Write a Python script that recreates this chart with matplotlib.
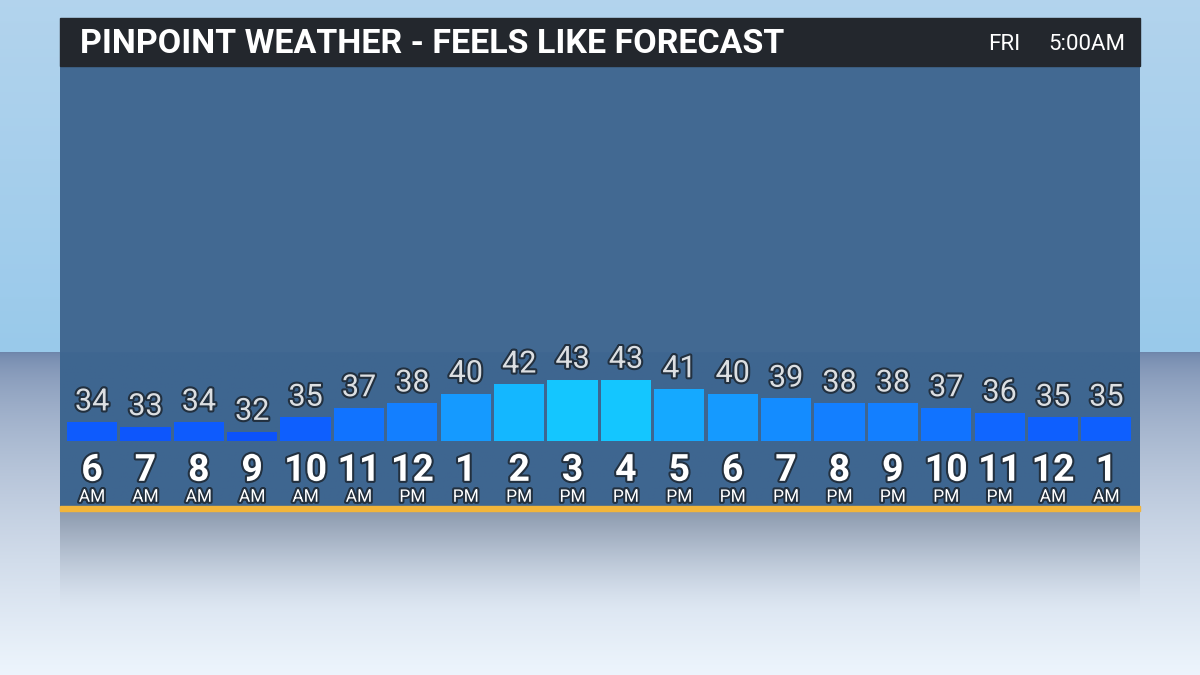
import matplotlib.pyplot as plt
import matplotlib.patheffects as pe
from matplotlib.colors import LinearSegmentedColormap
import numpy as np

hours = ['6', '7', '8', '9', '10', '11', '12', '1', '2', '3', '4', '5', '6', '7', '8', '9', '10', '11', '12', '1']
ampm = ['AM', 'AM', 'AM', 'AM', 'AM', 'AM', 'PM', 'PM', 'PM', 'PM', 'PM', 'PM', 'PM', 'PM', 'PM', 'PM', 'PM', 'PM', 'AM', 'AM']
feels_like = [34, 33, 34, 32, 35, 37, 38, 40, 42, 43, 43, 41, 40, 39, 38, 38, 37, 36, 35, 35]
title = 'PINPOINT WEATHER - FEELS LIKE FORECAST'
day = 'FRI'
stamp = '5:00AM'

W, H = 1200, 675
fig = plt.figure(figsize=(12, 6.75), dpi=100)

# backdrop: sky on top, hazy horizon fading to white below
bg = fig.add_axes([0, 0, 1, 1])
yy = np.linspace(0, 1, H)[:, None] * np.ones((1, W))
sky_top = np.array([0.70, 0.83, 0.93])
sky_bot = np.array([0.60, 0.79, 0.92])
low_top = np.array([0.42, 0.51, 0.66])
low_bot = np.array([0.93, 0.96, 0.99])
img = np.zeros((H, W, 3))
cut = 352 / H
for c in range(3):
    upper = sky_top[c] + (sky_bot[c] - sky_top[c]) * (yy / cut)
    t = np.clip((yy - cut) / (1 - cut), 0, 1) ** 0.55
    lower = low_top[c] + (low_bot[c] - low_top[c]) * t
    img[:, :, c] = np.where(yy < cut, upper, lower)
# soft shadow under the panel
sh = np.zeros((H, W))
rows = np.arange(H)
fade = np.clip(1 - (rows - 512) / 100, 0, 1) ** 1.5 * (rows >= 512)
sh[:, 60:1140] = fade[:, None] * 0.45
img = img * (1 - sh[:, :, None]) + np.array([0.30, 0.36, 0.45]) * sh[:, :, None]
bg.imshow(np.clip(img, 0, 1), extent=[0, W, H, 0], aspect='auto')
bg.set_xlim(0, W)
bg.set_ylim(H, 0)
bg.axis('off')

# panel body and header
by = np.linspace(66, 511, 300)[:, None]
body_rgb = np.where(by < 353, 1, 0)[..., None] * np.array([0.262, 0.412, 0.573]) + \
    np.where(by < 353, 0, 1)[..., None] * np.array([0.245, 0.400, 0.567])
body_rgb = np.repeat(body_rgb, 10, axis=1)
bg.imshow(body_rgb, extent=[60, 1140, 511, 66], aspect='auto', zorder=2)
bg.add_patch(plt.Rectangle((60, 18), 1080, 48, color='#23272d', zorder=3))
bg.add_patch(plt.Rectangle((60, 506), 1080, 5, color='#f2b53a', zorder=3))
bg.text(80, 44, title, color='white', fontsize=24.5, fontweight='bold', family='Roboto',
        va='center', ha='left', zorder=4)
bg.text(1020, 45, day, color='white', fontsize=16, family='Roboto', va='center', ha='right', zorder=4)
bg.text(1125, 45, stamp, color='white', fontsize=16, family='Roboto', va='center', ha='right', zorder=4)
bg.set_xlim(0, W)
bg.set_ylim(H, 0)

# chart axes lined up with the panel body
ax = fig.add_axes([60 / W, 1 - 508 / H, 1080 / W, 442 / H])
ax.patch.set_alpha(0)
base = 30
ppu = 4.73
ax.set_ylim(base - 67 / ppu, base - 67 / ppu + 442 / ppu)
ax.set_xlim(-0.6, 19.63)
ax.axis('off')

cmap = LinearSegmentedColormap.from_list('feels', ['#0c52fb', '#0f62ff', '#1590ff', '#14c6ff'])
vals = np.array(feels_like)
x = np.arange(len(vals))
colors = cmap(np.clip((vals - 32) / 11, 0, 1))
ax.bar(x, vals - base, bottom=base, width=0.94, color=colors, edgecolor='none', zorder=3)

stroke = [pe.withStroke(linewidth=3, foreground='#22303f')]
for i, v in enumerate(vals):
    ax.text(i, v + 1.2, str(v), ha='center', va='bottom', fontsize=22, color='#dcdfe2',
            family='Roboto', path_effects=stroke, zorder=4)
    ax.text(i, base - 6.2, hours[i], ha='center', va='center', fontsize=27, fontweight='bold',
            color='white', family='Roboto', path_effects=stroke, zorder=4)
    ax.text(i, base - 11.9, ampm[i], ha='center', va='center', fontsize=12.5,
            color='white', family='Roboto', path_effects=stroke, zorder=4)

fig.savefig('out.png', dpi=100)
